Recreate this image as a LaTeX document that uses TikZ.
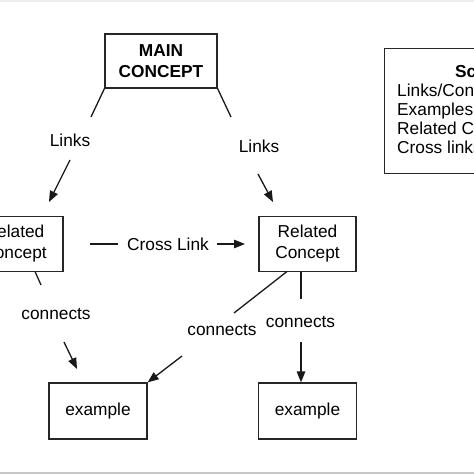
\documentclass[tikz,border=0pt]{standalone}
\usepackage{fontspec}
\setmainfont{Liberation Sans}
\usetikzlibrary{positioning}
\usetikzlibrary{arrows.meta}
\tikzset{
    cbox/.style = {rectangle, draw=black!85, line width=1.2pt, minimum width=97pt, minimum height=55pt, align=center, inner sep=0pt},
    ctext/.style = {inner sep=0pt, anchor=base},
    ltext/.style = {inner sep=0pt, anchor=base west},
    edgel/.style = {line width=1.3pt, draw=black!90},
    edgea/.style = {-{Triangle[length=11pt,width=8.5pt]}, line width=1.3pt, draw=black!90, fill=black!90},
    every picture/.style={font issue=\fontsize{17.3pt}{21pt}},
    font issue/.style={execute at begin picture={#1\selectfont}}
}

\begin{document}
\begin{tikzpicture}[x=1pt,y=-1pt]
  \useasboundingbox (0,0) rectangle (474,474);
  \clip (0,0) rectangle (474,474);
  \fill[black!7] (0,0) rectangle (474,1.5);
  \fill[black!22] (0,472) rectangle (474,474);

  % concepts
  \node[cbox, minimum width=112pt, minimum height=54pt, font=\bfseries] (main) at (161,61) {MAIN\\CONCEPT};
  \node[cbox] (relL) at (14.5,244) {Related\\Concept};
  \node[cbox] (relR) at (307.5,244) {Related\\Concept};
  \node[cbox, minimum width=98pt, minimum height=56pt] (exL) at (98,411) {example};
  \node[cbox, minimum width=98pt, minimum height=56pt] (exR) at (307.5,411) {example};

  % link words
  \node[ctext] (lnkL) at (70,146) {Links};
  \node[ctext] (lnkR) at (259,152) {Links};
  \node[ctext] (cross) at (168,250) {Cross Link};
  \node[ctext] (conL) at (56,319) {connects};
  \node[ctext] (conM) at (222,335) {connects};
  \node[ctext] (conR) at (300.5,327) {connects};

  % free line ends
  \coordinate (a1) at (91,117);  \coordinate (a2) at (70,160);  \coordinate (a3) at (49,202);
  \coordinate (b1) at (231,117); \coordinate (b2) at (258,174); \coordinate (b3) at (273,202);
  \coordinate (c1) at (90,244);  \coordinate (c2) at (118,244); \coordinate (c3) at (217,244); \coordinate (c4) at (245,244);
  \coordinate (d0) at (35,271.5); \coordinate (d1) at (41,285); \coordinate (d2) at (64,342); \coordinate (d3) at (77,369);
  \coordinate (e0) at (287,271.5); \coordinate (e1) at (234,313); \coordinate (e2) at (182,356);
  \coordinate (f0) at (301,271.5); \coordinate (f1) at (301,299); \coordinate (f2) at (301,342);

  \draw[edgel] (main.south west) -- (a1);
  \draw[edgea] (a2) -- (a3);
  \draw[edgel] (main.south east) -- (b1);
  \draw[edgea] (b2) -- (b3);
  \draw[edgel] (c1) -- (c2);
  \draw[edgea] (c3) -- (c4);
  \draw[edgel] (d0) -- (d1);
  \draw[edgea] (d2) -- (d3);
  \draw[edgel] (e0) -- (e1);
  \draw[edgea] (e2) -- (exL.north east);
  \draw[edgel] (f0) -- (f1);
  \draw[edgea] (f2) -- (f2 |- exR.north);

  % scoring key
  \node[draw=black!85, line width=1.2pt, minimum width=220pt, minimum height=125pt, anchor=north west, inner sep=0pt] (key) at (384,48) {};
  \node[ltext, font=\bfseries] (keyhead) at (455,77) {Scoring};
  \node[ltext] (key1) at (397,96) {Links/Connections};
  \node[ltext] (key2) at (397,115) {Examples};
  \node[ltext] (key3) at (397,134) {Related Concepts};
  \node[ltext] (key4) at (397,153) {Cross links};
\end{tikzpicture}
\end{document}
